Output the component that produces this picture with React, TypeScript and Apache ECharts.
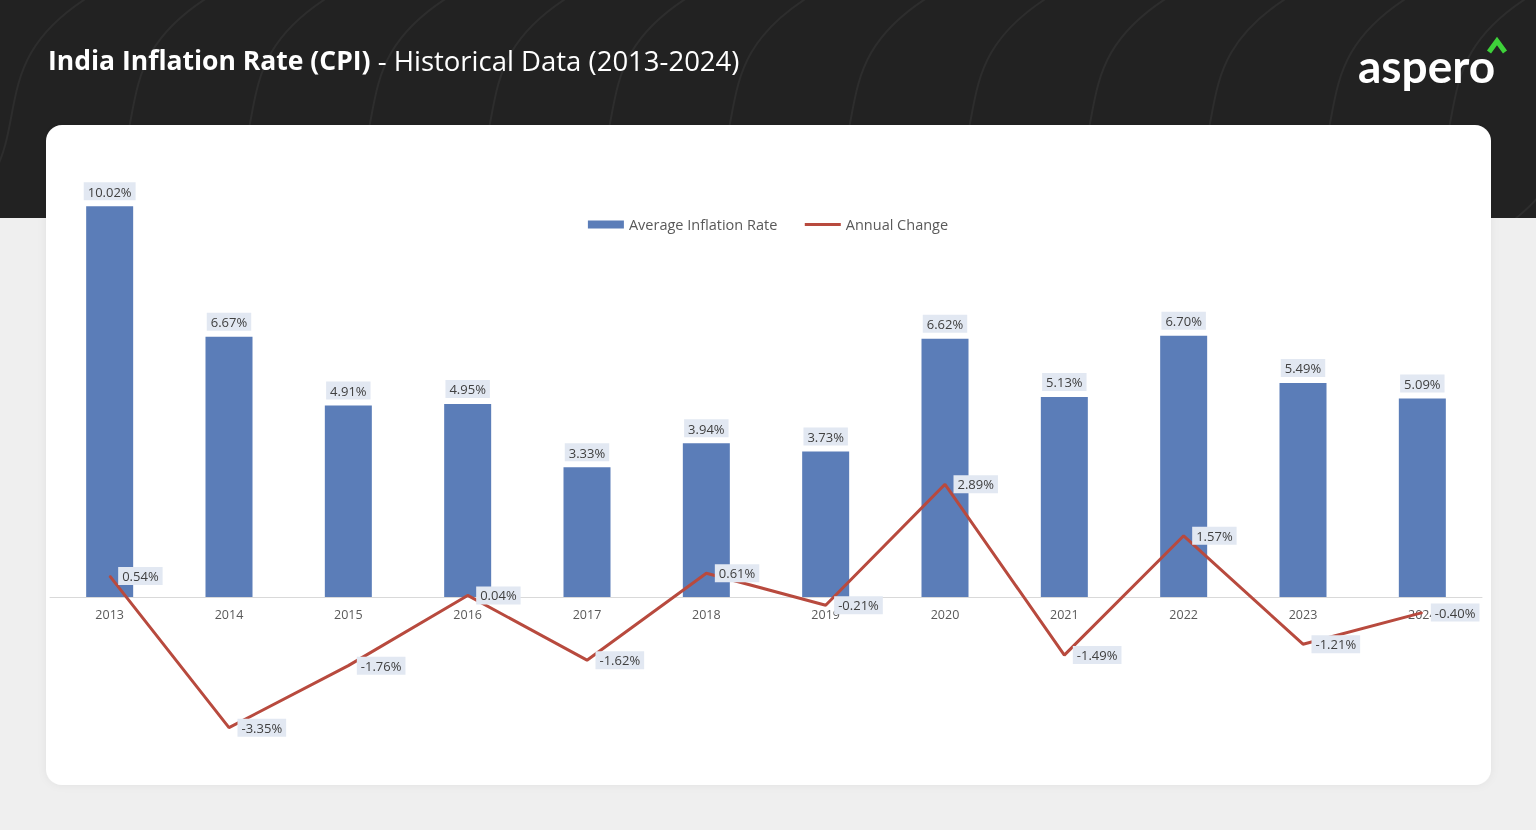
import React, { useEffect, useRef } from "react";
import * as echarts from "echarts";

const years = ["2013", "2014", "2015", "2016", "2017", "2018", "2019", "2020", "2021", "2022", "2023", "2024"];
const avgInflation = [10.02, 6.67, 4.91, 4.95, 3.33, 3.94, 3.73, 6.62, 5.13, 6.7, 5.49, 5.09];
const annualChange = [0.54, -3.35, -1.76, 0.04, -1.62, 0.61, -0.21, 2.89, -1.49, 1.57, -1.21, -0.4];

const titleBold = "India Inflation Rate (CPI)";
const titleRest = " - Historical Data (2013-2024)";

const Y_MIN = -4;
const Y_MAX = 11;
const GRID_TOP = 168;
const GRID_BOTTOM = 77;

export default function App() {
  const ref = useRef<HTMLDivElement>(null);
  useEffect(() => {
    if (!ref.current) return;
    const chart = echarts.init(ref.current, undefined, { renderer: "svg" });
    const labelFont = "'Open Sans', 'Noto Sans', sans-serif";
    const fmt = (p: any) => Number(p.value).toFixed(2) + "%";
    const plotH = 830 - GRID_TOP - GRID_BOTTOM;
    // distance from bottom of the plot to the zero line, in pixels (from the axis scale)
    const zeroOffset = (-Y_MIN / (Y_MAX - Y_MIN)) * plotH;
    const waves: any[] = [];
    for (let i = 0; i < 14; i++) {
      const x0 = -60 + i * 120;
      waves.push({
        type: "bezierCurve",
        silent: true,
        z: 1,
        shape: { x1: x0, y1: 230, cpx1: x0 + 120, cpy1: 150, cpx2: x0 + 20, cpy2: 70, x2: x0 + 160, y2: -10 },
        style: { stroke: "rgba(255,255,255,0.05)", lineWidth: 2, fill: "none" },
      });
    }
    chart.setOption({
      animation: false,
      backgroundColor: "transparent",
      graphic: [
        { type: "rect", z: 0, silent: true, shape: { x: 0, y: 0, width: 1536, height: 830 }, style: { fill: "#efefef" } },
        { type: "rect", z: 0, silent: true, shape: { x: 0, y: 0, width: 1536, height: 218 }, style: { fill: "#222222" } },
        ...waves,
        {
          type: "rect",
          z: 2,
          silent: true,
          shape: { x: 46, y: 125, width: 1445, height: 660, r: 16 },
          style: { fill: "#ffffff", shadowBlur: 8, shadowColor: "rgba(0,0,0,0.06)" },
        },
        {
          type: "text",
          z: 3,
          left: 48,
          top: 46,
          style: {
            text: "{b|" + titleBold + "}{r|" + titleRest + "}",
            rich: {
              b: { fontFamily: "'Open Sans', sans-serif", fontWeight: "bold", fontSize: 26.5, fill: "#ffffff" },
              r: { fontFamily: "'Open Sans', sans-serif", fontWeight: "normal", fontSize: 27.5, fill: "#ffffff" },
            },
          },
        },
        {
          type: "text",
          z: 3,
          left: 1358,
          top: 42,
          style: { text: "aspero", fontFamily: "Lato, 'Open Sans', sans-serif", fontWeight: "bold", fontSize: 46, fill: "#ffffff" },
        },
        {
          type: "polyline",
          z: 3,
          shape: { points: [[1489, 52], [1497, 41], [1505, 52]] },
          style: { stroke: "#3ed23a", lineWidth: 5, fill: "none", lineJoin: "miter" },
        },
      ],
      legend: {
        top: 212,
        left: "center",
        itemGap: 26,
        textStyle: { color: "#595959", fontSize: 14.5, fontFamily: labelFont },
        data: [
          { name: "Average Inflation Rate", icon: "rect", itemStyle: { color: "#5b7db8" } },
          { name: "Annual Change", itemStyle: { opacity: 0 }, lineStyle: { color: "#b84a3e", width: 3 } },
        ],
        itemWidth: 36,
        itemHeight: 8,
        z: 4,
      },
      grid: { left: 50, right: 54, top: GRID_TOP, bottom: GRID_BOTTOM },
      xAxis: [
        {
          type: "category",
          data: years,
          axisLine: { show: true, onZero: true, lineStyle: { color: "#d9d9d9", width: 1 } },
          axisTick: { show: false },
          axisLabel: { show: false },
          z: 3,
        },
        {
          type: "category",
          data: years,
          position: "bottom",
          offset: -zeroOffset,
          axisLine: { show: false },
          axisTick: { show: false },
          axisLabel: { color: "#595959", fontSize: 12.5, fontFamily: labelFont, margin: 11 },
          z: 3,
        },
      ],
      yAxis: {
        type: "value",
        min: Y_MIN,
        max: Y_MAX,
        show: false,
        splitLine: { show: false },
      },
      series: [
        {
          name: "Average Inflation Rate",
          type: "bar",
          data: avgInflation,
          barWidth: 47,
          itemStyle: { color: "#5b7db8" },
          z: 3,
          label: {
            show: true,
            position: "top",
            distance: 6,
            formatter: fmt,
            color: "#404040",
            fontSize: 13,
            fontFamily: labelFont,
            backgroundColor: "#e2e8f2",
            padding: [3, 4, 2, 4],
          },
        },
        {
          name: "Annual Change",
          type: "line",
          data: annualChange,
          symbol: "circle",
          symbolSize: 1,
          showSymbol: true,
          lineStyle: { color: "#b84a3e", width: 3 },
          itemStyle: { color: "#b84a3e" },
          z: 4,
          label: {
            show: true,
            position: "right",
            distance: 8,
            formatter: fmt,
            color: "#404040",
            fontSize: 13,
            fontFamily: labelFont,
            backgroundColor: "#e2e8f2",
            padding: [3, 4, 2, 4],
          },
        },
      ],
    });
    return () => chart.dispose();
  }, []);
  return <div ref={ref} style={{ position: "fixed", left: 0, top: 0, width: 1536, height: 830 }} />;
}
